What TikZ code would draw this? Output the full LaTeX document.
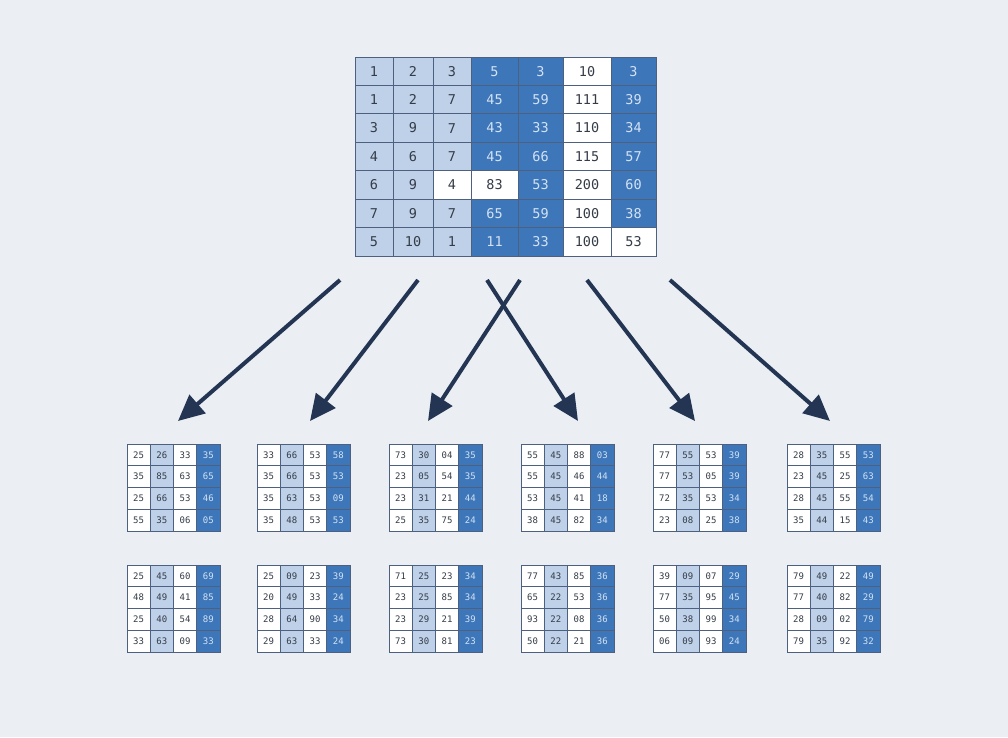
\documentclass[tikz,border=0pt]{standalone}
\usepackage{fontspec}
\setmainfont{DejaVu Sans}
\newfontfamily\numfont{DejaVu Sans Mono}
\usetikzlibrary{arrows.meta}
\definecolor{bg}{HTML}{EBEFF4}
\definecolor{lb}{HTML}{BED1E9}
\definecolor{db}{HTML}{3E77B9}
\definecolor{gline}{HTML}{4E6080}
\definecolor{navy}{HTML}{243553}
\definecolor{txt}{HTML}{353C47}
\definecolor{ltxt}{HTML}{D3E2F4}
\tikzset{
  topcell/.style={draw=gline, line width=0.9pt, inner sep=0pt, minimum height=28.43pt,
     font=\numfont\fontsize{13.5}{14}\selectfont},
  topL/.style={topcell, fill=lb, text=txt},
  topD/.style={topcell, fill=db, text=ltxt},
  topW/.style={topcell, fill=white, text=txt},
  smcell/.style={draw=gline, line width=0.7pt, inner sep=0pt, minimum width=23.25pt,
     minimum height=21.6pt, font=\numfont\fontsize{9}{10}\selectfont},
  sW/.style={smcell, fill=white, text=txt},
  sL/.style={smcell, fill=lb, text=txt},
  sD/.style={smcell, fill=db, text=ltxt},
  arr/.style={draw=navy, line width=4pt, -{Triangle[length=26pt,width=24pt]}}
}
\newcommand\toprow[2]{%
  \foreach \kk/\vv [count=\cc] in {#2} {%
    \pgfmathsetmacro\cx{{374,413,452,494.5,540.5,587,633.5}[\cc-1]}%
    \pgfmathsetmacro\cw{{38,40,38,47,45,48,45}[\cc-1]}%
    \node[top\kk, minimum width=\cw pt] (T-#1-\cc) at (\cx,{57+(#1-0.5)*28.43}) {\vv};
  }%
}
\newcommand\sgrid[4]{%
  \foreach \va/\vb/\vc/\vd [count=\ri] in {#4} {%
    \node[sW] (#1-\ri-1) at ({#2+11.625},{#3+(\ri-0.5)*21.75}) {\va};
    \node[sL] (#1-\ri-2) at ({#2+34.875},{#3+(\ri-0.5)*21.75}) {\vb};
    \node[sW] (#1-\ri-3) at ({#2+58.125},{#3+(\ri-0.5)*21.75}) {\vc};
    \node[sD] (#1-\ri-4) at ({#2+81.375},{#3+(\ri-0.5)*21.75}) {\vd};
  }%
}
\begin{document}
\begin{tikzpicture}[x=1pt,y=-1pt]
\fill[bg] (0,0) rectangle (1008,737);
\useasboundingbox (0,0) rectangle (1008,737);
% top grid
\toprow{1}{L/1,L/2,L/3,D/5,D/3,W/10,D/3}
\toprow{2}{L/1,L/2,L/7,D/45,D/59,W/111,D/39}
\toprow{3}{L/3,L/9,L/7,D/43,D/33,W/110,D/34}
\toprow{4}{L/4,L/6,L/7,D/45,D/66,W/115,D/57}
\toprow{5}{L/6,L/9,W/4,W/83,D/53,W/200,D/60}
\toprow{6}{L/7,L/9,L/7,D/65,D/59,W/100,D/38}
\toprow{7}{L/5,L/10,L/1,D/11,D/33,W/100,W/53}
% small grids, row 1
\sgrid{A1}{127}{444}{25/26/33/35, 35/85/63/65, 25/66/53/46, 55/35/06/05}
\sgrid{A2}{257}{444}{33/66/53/58, 35/66/53/53, 35/63/53/09, 35/48/53/53}
\sgrid{A3}{389}{444}{73/30/04/35, 23/05/54/35, 23/31/21/44, 25/35/75/24}
\sgrid{A4}{521}{444}{55/45/88/03, 55/45/46/44, 53/45/41/18, 38/45/82/34}
\sgrid{A5}{653}{444}{77/55/53/39, 77/53/05/39, 72/35/53/34, 23/08/25/38}
\sgrid{A6}{787}{444}{28/35/55/53, 23/45/25/63, 28/45/55/54, 35/44/15/43}
% small grids, row 2
\sgrid{B1}{127}{565}{25/45/60/69, 48/49/41/85, 25/40/54/89, 33/63/09/33}
\sgrid{B2}{257}{565}{25/09/23/39, 20/49/33/24, 28/64/90/34, 29/63/33/24}
\sgrid{B3}{389}{565}{71/25/23/34, 23/25/85/34, 23/29/21/39, 73/30/81/23}
\sgrid{B4}{521}{565}{77/43/85/36, 65/22/53/36, 93/22/08/36, 50/22/21/36}
\sgrid{B5}{653}{565}{39/09/07/29, 77/35/95/45, 50/38/99/34, 06/09/93/24}
\sgrid{B6}{787}{565}{79/49/22/49, 77/40/82/29, 28/09/02/79, 79/35/92/32}
% arrows
\coordinate (s1) at (340,280); \coordinate (e1) at (178,421);
\coordinate (s2) at (418,280); \coordinate (e2) at (310,421);
\coordinate (s3) at (520,280); \coordinate (e3) at (428,421);
\coordinate (s4) at (487,280); \coordinate (e4) at (578,421);
\coordinate (s5) at (587,280); \coordinate (e5) at (695,421);
\coordinate (s6) at (670,280); \coordinate (e6) at (830,421);
\foreach \i in {1,...,6} { \draw[arr] (s\i) -- (e\i); }
\end{tikzpicture}
\end{document}
